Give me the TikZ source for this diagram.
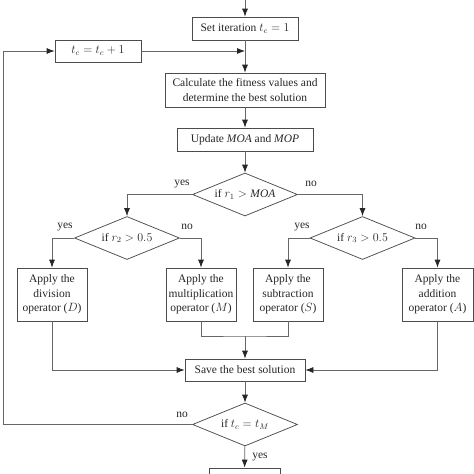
\documentclass[tikz,border=0pt]{standalone}
\usepackage{fontspec}
\setmainfont{Liberation Serif}
\usetikzlibrary{shapes.geometric,arrows.meta}
\tikzset{
  every node/.style={
    font=\fontsize{11.5}{14.5}\selectfont,
    text=black!85
  },
  process/.style n args={2}{
    shape=rectangle,
    draw=black!70,
    line width=0.75pt,
    minimum width=#1,
    minimum height=#2,
    inner sep=1pt,
    align=center
  },
  decision/.style={
    shape=diamond,
    draw=black!70,
    line width=0.75pt,
    minimum width=105pt,
    minimum height=43pt,
    inner sep=0pt,
    aspect=2.4
  },
  flow/.style={
    draw=black!60,
    line width=0.75pt,
    -{Latex[length=8pt,width=6pt,color=black!85]}
  },
  plain flow/.style={
    draw=black!60,
    line width=0.75pt
  },
  answer/.style={
    inner sep=0pt
  }
}
\begin{document}
\begin{tikzpicture}[x=1pt,y=-1pt]
    \clip (0,0) rectangle (474,474);

    \coordinate (start) at (245,0);
    \node [process={106pt}{23pt}] (init) at (245,28.5) {Set iteration $t_c = 1$};
    \node [process={86pt}{22pt}] (inc) at (98,51) {$t_c = t_c + 1$};
    \coordinate (join top) at (245,51);
    \node [process={160pt}{34pt}] (calc) at (245,90)
      {Calculate the fitness values and\\determine the best solution};
    \node [process={136pt}{23pt}] (upd) at (245,139.5) {Update $\mathit{MOA}$ and $\mathit{MOP}$};

    \node [decision] (d1) at (245,194.5) {if $r_1 > \mathit{MOA}$};
    \node [decision] (d2) at (127,238) {if $r_2 > 0.5$};
    \node [decision] (d3) at (362.5,238) {if $r_3 > 0.5$};

    \node [process={70pt}{53pt}] (opD) at (52,294.5) {Apply the\\division\\operator ($D$)};
    \node [process={70pt}{53pt}] (opM) at (201,294.5) {Apply the\\multiplication\\operator ($M$)};
    \node [process={70pt}{53pt}] (opS) at (288,294.5) {Apply the\\subtraction\\operator ($S$)};
    \node [process={71pt}{53pt}] (opA) at (437.5,294.5) {Apply the\\addition\\operator ($A$)};

    \coordinate (join mid) at (245,336);
    \node [process={120pt}{22pt}] (save) at (245,370) {Save the best solution};
    \node [decision] (d4) at (245,424.5) {if $t_c = t_M$};
    \coordinate (loop) at (3,424.5);
    \node [process={71pt}{30pt}] (fin) at (244.5,483) {};

    \node [answer] (y1) at (182,184) {yes};
    \node [answer] (n1) at (311,184) {no};
    \node [answer] (y2) at (65,227) {yes};
    \node [answer] (n2) at (187,227) {no};
    \node [answer] (y3) at (302,227) {yes};
    \node [answer] (n3) at (421,227) {no};
    \node [answer] (n4) at (182,415) {no};
    \node [answer] (y4) at (260,457) {yes};

    \draw [flow] (start) -- (init);
    \draw [flow] (init) -- (calc);
    \draw [flow] (inc) -- (join top);
    \draw [flow] (calc) -- (upd);
    \draw [flow] (upd) -- (d1);
    \draw [flow] (d1.west) -| (d2.north);
    \draw [flow] (d1.east) -| (d3.north);
    \draw [flow] (d2.west) -| (opD.north);
    \draw [flow] (d2.east) -| (opM.north);
    \draw [flow] (d3.west) -| (opS.north);
    \draw [flow] (d3.east) -| (opA.north);
    \draw [plain flow] (opM.south) |- (join mid) -| (opS.south);
    \draw [flow] (join mid) -- (save);
    \draw [flow] (opD.south) |- (save.west);
    \draw [flow] (opA.south) |- (save.east);
    \draw [flow] (save) -- (d4);
    \draw [flow] (d4.west) -- (loop) |- (inc.west);
    \draw [flow] (d4) -- (fin);
\end{tikzpicture}
\end{document}
